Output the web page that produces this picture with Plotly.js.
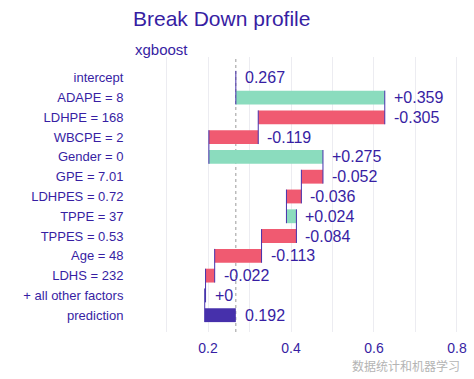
<!DOCTYPE html>
<html>
<head>
<meta charset="utf-8">
<script src="https://cdn.plot.ly/plotly-3.0.1.min.js"></script>
<style>html,body{margin:0;padding:0;background:#fff;}#chart{width:474px;height:379px;}</style>
</head>
<body>
<div id="chart"></div>
<script>
var labels = ["intercept","ADAPE = 8","LDHPE = 168","WBCPE = 2","Gender = 0","GPE = 7.01","LDHPES = 0.72","TPPE = 37","TPPES = 0.53","Age = 48","LDHS = 232","+ all other factors","prediction"];
var intercept = 0.267;
var contributions = [0.359,-0.305,-0.119,0.275,-0.052,-0.036,0.024,-0.084,-0.113,-0.022,0];
var prediction = 0.192;
var valueText = ["0.267","+0.359","-0.305","-0.119","+0.275","-0.052","-0.036","+0.024","-0.084","-0.113","-0.022","+0","0.192"];

var posColor = "#8bdcbe", negColor = "#f05a71", predColor = "#4630ab", textColor = "#371ea3";

var n = labels.length;
var ys = labels.map(function(_, i){ return i; });
var ends = [intercept];
var cur = intercept;
for (var i = 0; i < contributions.length; i++) {
  cur = cur + contributions[i];
  ends.push(i === contributions.length - 1 ? prediction : cur);
}
var starts = [intercept];
for (var i = 1; i < ends.length; i++) starts.push(ends[i-1]);
starts.push(prediction); ends.push(intercept);

var bx = [], bbase = [], bcol = [], by = [];
for (var i = 1; i < n; i++) {
  var s = starts[i], e = ends[i];
  bbase.push(Math.min(s, e));
  bx.push(Math.abs(e - s));
  by.push(i);
  if (i === n - 1) bcol.push(predColor);
  else bcol.push(contributions[i-1] >= 0 ? posColor : negColor);
}

var cx = [], cy = [];
for (var i = 0; i < n - 1; i++) {
  var v = (i === n - 2) ? prediction : ends[i];
  cx.push(v, v, null);
  cy.push(i - 0.35, i + 1 + 0.35, null);
}

var annotations = [];
for (var i = 0; i < n; i++) {
  var xr = Math.max(starts[i], ends[i]);
  annotations.push({x: xr, y: i, xref: "x", yref: "y", text: valueText[i], showarrow: false,
    xanchor: "left", yanchor: "middle", xshift: 7, font: {size: 16, color: textColor, family: "Liberation Sans, Arial, sans-serif"}});
}
annotations.push({x: 0.995, y: -0.085, xref: "paper", yref: "paper", xanchor: "right", yanchor: "top",
  text: "数据统计和机器学习", showarrow: false, font: {size: 12, color: "#b4b4b4", family: "Noto Sans CJK SC"}});
annotations.push({x: -0.096, y: 1.027, xref: "paper", yref: "paper", xanchor: "left", yanchor: "middle",
  text: "xgboost", showarrow: false, font: {size: 15, color: textColor, family: "Liberation Sans, Arial, sans-serif"}});

var traces = [
  {type: "bar", orientation: "h", y: by, x: bx, base: bbase, width: 0.7,
   marker: {color: bcol, line: {width: 0}}, hoverinfo: "skip", showlegend: false},
  {type: "scatter", mode: "lines", x: cx, y: cy, line: {color: predColor, width: 1},
   hoverinfo: "skip", showlegend: false}
];

var layout = {
  width: 474, height: 379,
  margin: {l: 162, r: 10, t: 57, b: 47},
  paper_bgcolor: "#fff", plot_bgcolor: "#fff",
  font: {family: "Liberation Sans, Arial, sans-serif", color: textColor},
  title: {text: "Break Down profile", x: 133/474, xanchor: "left", y: 0.952, yanchor: "middle",
          font: {size: 21, color: textColor}},
  xaxis: {range: [0.089, 0.817], tickvals: [0.2, 0.4, 0.6, 0.8], ticktext: ["0.2","0.4","0.6","0.8"],
          showgrid: true, gridcolor: "#ececf1", gridwidth: 1, zeroline: false, showline: false,
          minor: {dtick: 0.1, tick0: 0, showgrid: true, gridcolor: "#ececf1", gridwidth: 1},
          ticks: "outside", ticklen: 3, tickcolor: "rgba(0,0,0,0)",
          tickfont: {size: 14, color: textColor}},
  yaxis: {range: [12.85, -1.05], tickvals: ys, ticktext: labels, showgrid: false, zeroline: false,
          showline: false, ticks: "outside", ticklen: 35, tickcolor: "rgba(0,0,0,0)",
          tickfont: {size: 13, color: textColor}},
  shapes: [{type: "line", xref: "x", yref: "paper", x0: intercept, x1: intercept, y0: 0, y1: 1,
            line: {color: "#9a9a9a", width: 1, dash: "dot"}, layer: "below"}],
  annotations: annotations
};

Plotly.newPlot("chart", traces, layout, {displayModeBar: false, staticPlot: true});
</script>
</body>
</html>
